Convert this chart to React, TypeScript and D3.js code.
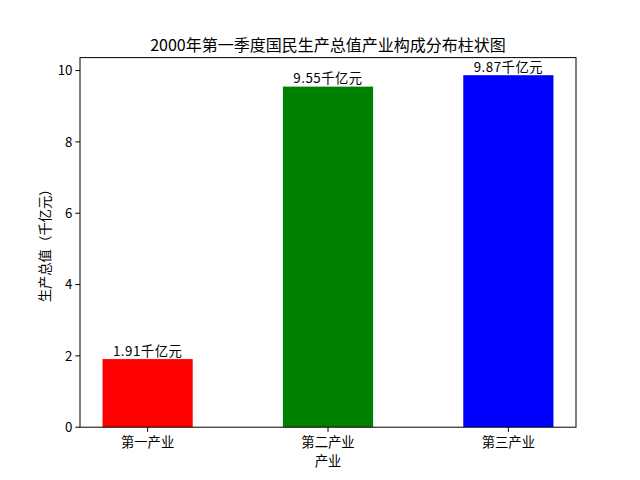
import React from "react";
import * as d3 from "d3";

const categories = ["第一产业", "第二产业", "第三产业"];
const values = [1.91, 9.55, 9.87];
const colors = ["#ff0000", "#008000", "#0000ff"];
const yTicks = [0, 2, 4, 6, 8, 10];
const title = "2000年第一季度国民生产总值产业构成分布柱状图";
const xLabel = "产业";
const yLabel = "生产总值（千亿元）";
const unit = "千亿元";

export default function App() {
  const W = 640, H = 480;
  const left = 80, right = 576, top = 57.6, bottom = 427.2;
  const font = "'Noto Sans CJK SC', 'DejaVu Sans', sans-serif";
  const x = d3.scaleLinear().domain([-0.375, 2.375]).range([left, right]);
  const y = d3.scaleLinear().domain([0, 9.87 * 1.05]).range([bottom, top]);
  const bw = 0.5;
  return (
    <svg width={W} height={H} style={{ position: "absolute", left: 0, top: 0, background: "#fff" }}>
      <rect x={0} y={0} width={W} height={H} fill="#fff" />
      {values.map((v, i) => (
        <g key={i}>
          <rect x={x(i - bw / 2)} y={y(v)} width={x(i + bw / 2) - x(i - bw / 2)} height={y(0) - y(v)} fill={colors[i]} />
          <text x={x(i)} y={y(v) - 3.5} textAnchor="middle" fontFamily={font} fontSize={13.33} letterSpacing={0.5} fill="#000">
            {v.toFixed(2) + unit}
          </text>
        </g>
      ))}
      <rect x={left} y={top} width={right - left} height={bottom - top} fill="none" stroke="#000" strokeWidth={1} />
      {yTicks.map((t) => (
        <g key={t}>
          <line x1={left - 4.67} x2={left} y1={y(t)} y2={y(t)} stroke="#000" />
          <text x={left - 7.5} y={y(t)} dy="0.35em" textAnchor="end" fontFamily={font} fontSize={13.33}>
            {t}
          </text>
        </g>
      ))}
      {categories.map((c, i) => (
        <g key={c}>
          <line x1={x(i)} x2={x(i)} y1={bottom} y2={bottom + 4.67} stroke="#000" />
          <text x={x(i)} y={bottom + 20} textAnchor="middle" fontFamily={font} fontSize={13.33}>
            {c}
          </text>
        </g>
      ))}
      <text x={(left + right) / 2} y={466} textAnchor="middle" fontFamily={font} fontSize={13.33}>
        {xLabel}
      </text>
      <text transform={`translate(50, ${(top + bottom) / 2}) rotate(-90)`} textAnchor="middle" fontFamily={font} fontSize={13.33}>
        {yLabel}
      </text>
      <text x={(left + right) / 2} y={51} textAnchor="middle" fontFamily={font} fontSize={16}>
        {title}
      </text>
    </svg>
  );
}
